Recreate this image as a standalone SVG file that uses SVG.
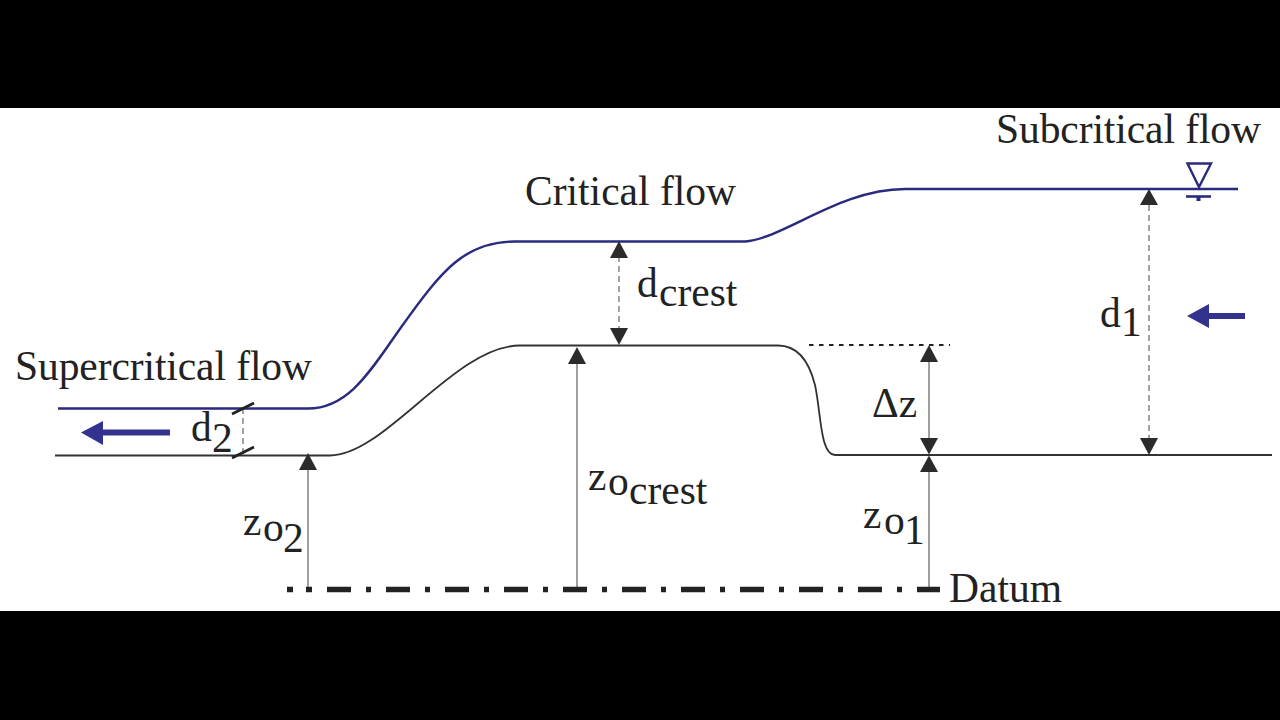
<svg xmlns="http://www.w3.org/2000/svg" width="1280" height="720" viewBox="0 0 1280 720">
<style>
text{font-family:"Liberation Serif","Times New Roman",serif;fill:#222;font-size:41.500px}
.wat{fill:none;stroke:#2a2a7e;stroke-width:2.4}
.bed{fill:none;stroke:#333;stroke-width:1.8}
.dim{fill:none;stroke:#777;stroke-width:1.4}
.dash{fill:none;stroke:#666;stroke-width:1.2;stroke-dasharray:6 4}
.head{fill:#2b2b2b}
.flow{fill:#33338f}
</style>
<rect width="1280" height="720" fill="#000"/>
<rect x="0" y="108" width="1280" height="503" fill="#fff"/>
<g id="connectors">
<path id="water-surface" class="wat" d="M58 408.500H308C350 408.500 372 368 402 326C442 270 465 241.500 515 241.500H745C785 238 840 189 905 189H1238"/>
<path id="bed" class="bed" d="M55 455.500H330C385 455.500 455 345.500 520 345.500H778C800 345.500 810 365 815 385C821 412 820 455 835 455H1272"/>
<path class="dash" d="M243 408V456"/>
<path d="M232 414L254 403M232 458L254 447" fill="none" stroke="#222" stroke-width="2.800"/>
<path class="dim" d="M308 468V589"/>
<path class="dim" d="M577 360V589"/>
<path class="dim" d="M929 360V441M929 470V589"/>
<path class="dash" d="M619 256V331"/>
<path class="dash" d="M1149 205V440"/>
<path d="M809 345H950" fill="none" stroke="#222" stroke-width="1.800" stroke-dasharray="4.500 5.500"/>
<path id="datum" d="M327 589.500H940" fill="none" stroke="#222" stroke-width="5.500" stroke-dasharray="24 15 5 15"/>
<path id="datum-dots" d="M287 589.500H293M306 589.500H312" fill="none" stroke="#222" stroke-width="5.500"/>
</g>
<g id="arrowheads">
<path class="head" d="M308 453L299 470H317Z"/>
<path class="head" d="M577 347L568 364H586Z"/>
<path class="head" d="M619 241L610 258H628Z"/>
<path class="head" d="M619 345L610 328H628Z"/>
<path class="head" d="M929 345L920 362H938Z"/>
<path class="head" d="M929 454.500L920 438H938Z"/>
<path class="head" d="M929 455.500L920 472H938Z"/>
<path class="head" d="M1149 189L1140 205H1158Z"/>
<path class="head" d="M1149 455L1140 438H1158Z"/>
</g>
<g id="flow-left"><path class="flow" d="M81 432.500L103 421V429.500H170V435.500H103V445Z"/></g>
<g id="flow-right"><path class="flow" d="M1187 316L1209 304V313H1245V319H1209V328Z"/></g>
<g id="water-symbol">
<path d="M1187.500 163.500H1211L1199 187Z" fill="#fff" stroke="#2a2a7e" stroke-width="2.400"/>
<path d="M1186 196.500H1211" stroke="#2a2a7e" stroke-width="2.600"/>
<path d="M1198.500 197V201" stroke="#2a2a7e" stroke-width="4"/>
</g>
<g id="labels">
<text id="subcritical" x="996" y="143" textLength="265" lengthAdjust="spacing">Subcritical flow</text>
<text id="critical" x="525" y="205" textLength="211" lengthAdjust="spacing">Critical flow</text>
<text id="supercritical" x="15" y="380" textLength="297" lengthAdjust="spacing">Supercritical flow</text>
<text id="datum-label" x="949" y="602">Datum</text>
<text x="191" y="441">d</text><text x="212" y="452">2</text>
<text x="243" y="535">z</text><text x="263" y="541">o</text><text x="283" y="552">2</text>
<text x="637" y="297">d</text><text x="659" y="306">crest</text>
<text x="588" y="490">z</text><text x="608" y="495">o</text><text x="629" y="504">crest</text>
<text x="872" y="417">Δz</text>
<text x="863" y="528">z</text><text x="884" y="534">o</text><text x="904" y="544">1</text>
<text x="1100" y="327">d</text><text x="1121" y="336">1</text>
</g>
</svg>
